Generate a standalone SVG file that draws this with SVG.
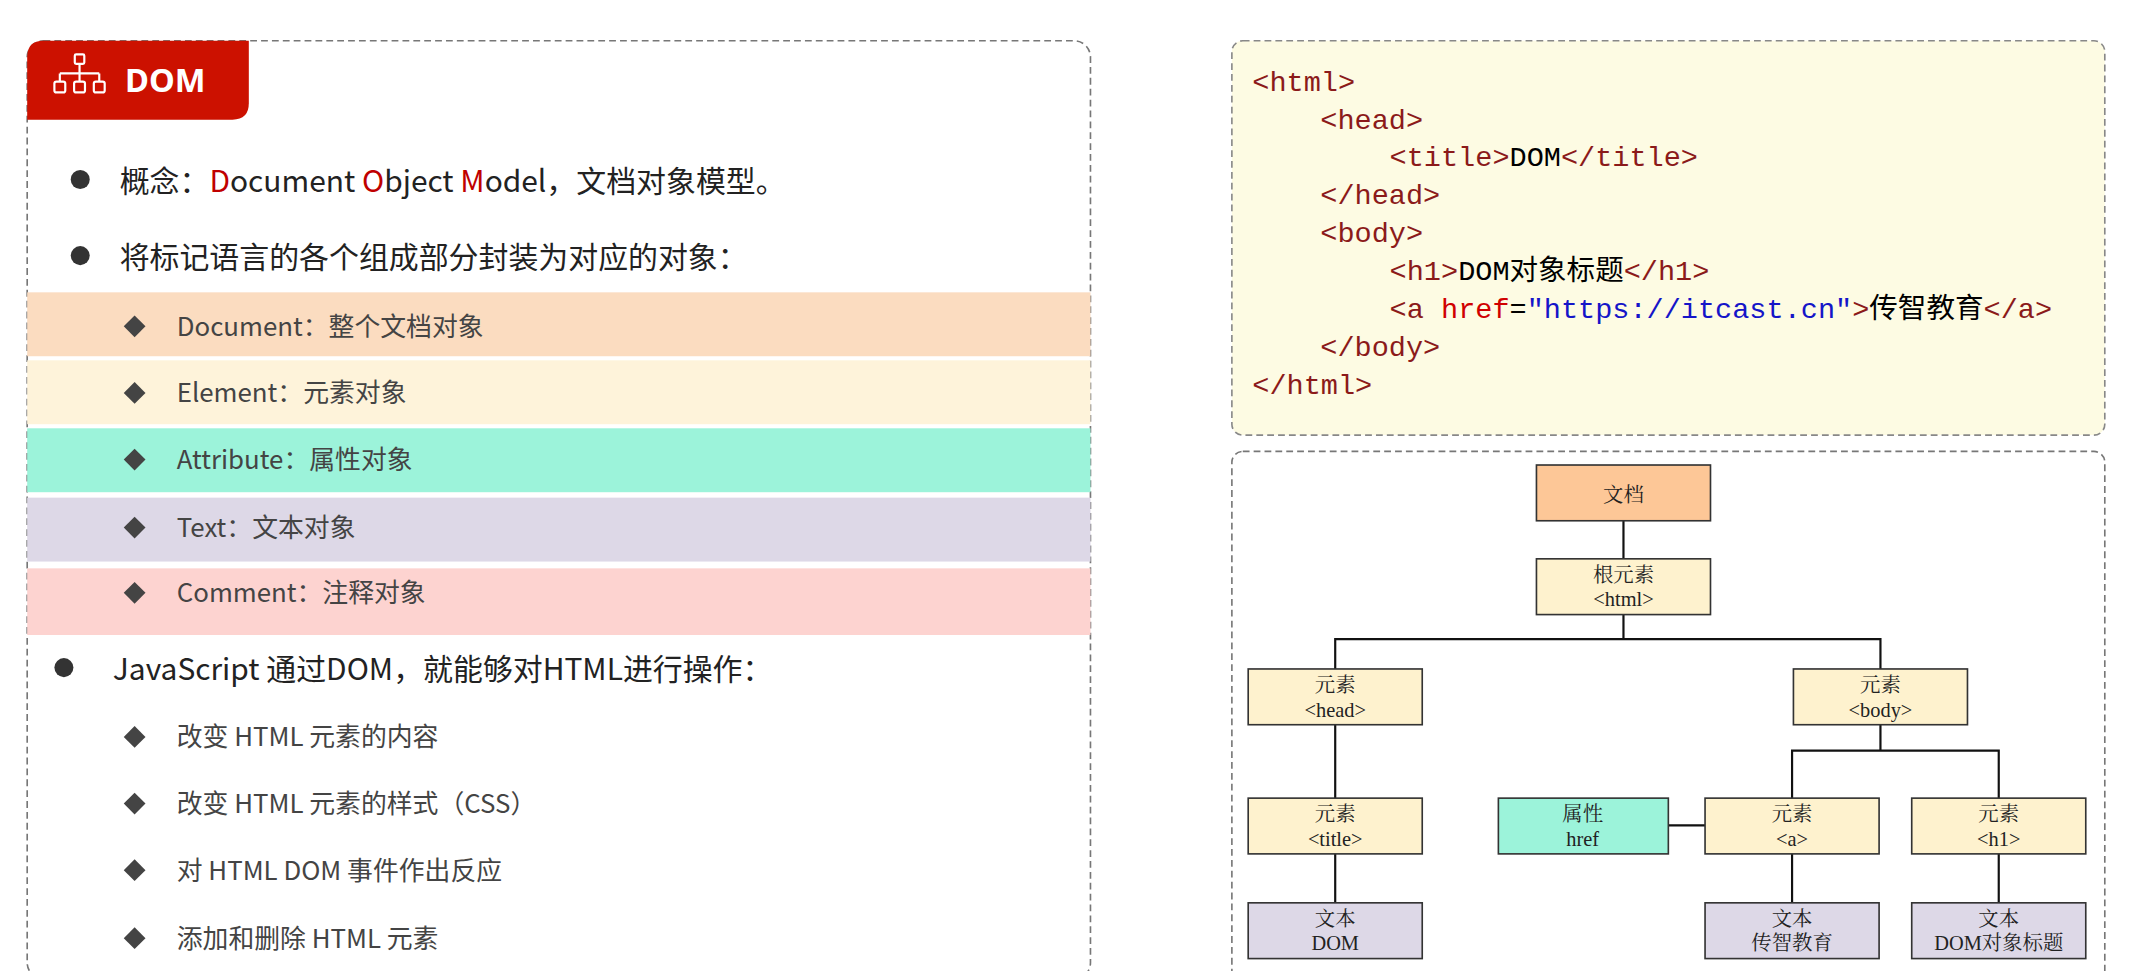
<svg xmlns="http://www.w3.org/2000/svg" width="2132" height="971" viewBox="0 0 2132 971">
<style>
.t{font-family:"Noto Sans CJK SC","Noto Sans",sans-serif;fill:#222}
.b{font-size:22px}
.s{font-size:19px;fill:#444}
.c{font-family:"Liberation Mono","Noto Sans CJK SC",monospace;font-size:21px;fill:#8B1A1A}
.k{fill:#000}
.n{stroke:#333;stroke-width:1.2}
.nt{font-family:"Liberation Serif","Noto Serif CJK SC","Noto Sans CJK SC",serif;font-size:15px;fill:#222;text-anchor:middle}
.dash{fill:none;stroke:#777;stroke-width:1.2;stroke-dasharray:5 3}
</style>
<defs>
<path id="dia" d="M0,-8 L8,0 L0,8 L-8,0 Z" fill="#444"/>
</defs>
<rect width="2132" height="971" fill="#fff"/>
<g transform="scale(1.35969)">
<g id="left">
<rect x="20" y="30" width="782" height="690" rx="12" class="dash"/>
<rect x="20" y="215" width="782" height="47" fill="#FBDCC0"/>
<rect x="20" y="265" width="782" height="47" fill="#FEF3DA"/>
<rect x="20" y="315" width="782" height="47" fill="#9CF3DA"/>
<rect x="20" y="366" width="782" height="47" fill="#DDD8E7"/>
<rect x="20" y="418" width="782" height="49" fill="#FDD3D0"/>
<path d="M32,30 H183 V76 Q183,88 171,88 H20 V42 Q20,30 32,30 Z" fill="#CC1100"/>
<g fill="none" stroke="#fff" stroke-width="1.6">
<rect x="55" y="40" width="7" height="7" rx="1"/>
<path d="M58.5,47 V54 M44,54 H73 M44,54 V60 M58.5,54 V60 M73,54 V60"/>
<rect x="40" y="60" width="8" height="8" rx="1.5"/><rect x="54.5" y="60" width="8" height="8" rx="1.5"/><rect x="69" y="60" width="8" height="8" rx="1.5"/>
</g>
<text x="92" y="68" font-family="'Noto Sans','Liberation Sans',sans-serif" font-weight="bold" font-size="24" fill="#fff">DOM</text>
<circle cx="59" cy="132" r="7" fill="#333"/>
<text x="88" y="141" class="t b">概念：<tspan fill="#C00000">D</tspan>ocument <tspan fill="#C00000">O</tspan>bject <tspan fill="#C00000">M</tspan>odel，文档对象模型。</text>
<circle cx="59" cy="188" r="7" fill="#333"/>
<text x="88" y="197" class="t b">将标记语言的各个组成部分封装为对应的对象：</text>
<use href="#dia" x="99" y="240"/><text x="130" y="247" class="t s">Document：整个文档对象</text>
<use href="#dia" x="99" y="289"/><text x="130" y="296" class="t s">Element：元素对象</text>
<use href="#dia" x="99" y="338"/><text x="130" y="345" class="t s">Attribute：属性对象</text>
<use href="#dia" x="99" y="388"/><text x="130" y="395" class="t s">Text：文本对象</text>
<use href="#dia" x="99" y="436"/><text x="130" y="443" class="t s">Comment：注释对象</text>
<circle cx="47" cy="491" r="7" fill="#333"/>
<text x="83" y="500" class="t b">JavaScript 通过DOM，就能够对HTML进行操作：</text>
<use href="#dia" x="99" y="542"/><text x="130" y="549" class="t s">改变 HTML 元素的内容</text>
<use href="#dia" x="99" y="591"/><text x="130" y="598" class="t s">改变 HTML 元素的样式（CSS）</text>
<use href="#dia" x="99" y="640"/><text x="130" y="647" class="t s">对 HTML DOM 事件作出反应</text>
<use href="#dia" x="99" y="690"/><text x="130" y="697" class="t s">添加和删除 HTML 元素</text>
</g>
<g id="code">
<rect x="906" y="30" width="642" height="290" rx="8" fill="#FDFBE3" stroke="#888" stroke-width="1.2" stroke-dasharray="5 3"/>
<text class="c" x="921" y="67">&lt;html&gt;</text>
<text class="c" x="971" y="95">&lt;head&gt;</text>
<text class="c" x="1022" y="122">&lt;title&gt;<tspan class="k">DOM</tspan>&lt;/title&gt;</text>
<text class="c" x="971" y="150">&lt;/head&gt;</text>
<text class="c" x="971" y="178">&lt;body&gt;</text>
<text class="c" x="1022" y="206">&lt;h1&gt;<tspan class="k">DOM对象标题</tspan>&lt;/h1&gt;</text>
<text class="c" x="1022" y="234">&lt;a <tspan fill="#D00000">href</tspan><tspan class="k">=</tspan><tspan fill="#1515C8">"https://itcast.cn"</tspan>&gt;<tspan class="k">传智教育</tspan>&lt;/a&gt;</text>
<text class="c" x="971" y="262">&lt;/body&gt;</text>
<text class="c" x="921" y="290">&lt;/html&gt;</text>
</g>
<rect x="906" y="332" width="642" height="392" rx="8" class="dash"/>
<g id="connectors" stroke="#111" stroke-width="1.6" fill="none">
<path d="M1194,383 V411 M1194,452 V470 M982,492 V470 H1383 V492"/>
<path d="M982,533 V587 M982,628 V664"/>
<path d="M1383,533 V552 M1318,587 V552 H1470 V587"/>
<path d="M1227,607 H1254 M1318,628 V664 M1470,628 V664"/>
</g>
<g id="n-doc"><rect x="1130" y="342" width="128" height="41" fill="#FDC797" class="n"/><text x="1194" y="369" class="nt" font-size="19">文档</text></g>
<g id="n-html"><rect x="1130" y="411" width="128" height="41" fill="#FEF2CE" class="n"/><text x="1194" y="428" class="nt">根元素</text><text x="1194" y="446" class="nt">&lt;html&gt;</text></g>
<g id="n-head"><rect x="918" y="492" width="128" height="41" fill="#FEF2CE" class="n"/><text x="982" y="509" class="nt">元素</text><text x="982" y="527" class="nt">&lt;head&gt;</text></g>
<g id="n-body"><rect x="1319" y="492" width="128" height="41" fill="#FEF2CE" class="n"/><text x="1383" y="509" class="nt">元素</text><text x="1383" y="527" class="nt">&lt;body&gt;</text></g>
<g id="n-title"><rect x="918" y="587" width="128" height="41" fill="#FEF2CE" class="n"/><text x="982" y="604" class="nt">元素</text><text x="982" y="622" class="nt">&lt;title&gt;</text></g>
<g id="n-attr"><rect x="1102" y="587" width="125" height="41" fill="#9CF3DA" class="n"/><text x="1164" y="604" class="nt">属性</text><text x="1164" y="622" class="nt">href</text></g>
<g id="n-a"><rect x="1254" y="587" width="128" height="41" fill="#FEF2CE" class="n"/><text x="1318" y="604" class="nt">元素</text><text x="1318" y="622" class="nt">&lt;a&gt;</text></g>
<g id="n-h1"><rect x="1406" y="587" width="128" height="41" fill="#FEF2CE" class="n"/><text x="1470" y="604" class="nt">元素</text><text x="1470" y="622" class="nt">&lt;h1&gt;</text></g>
<g id="n-t1"><rect x="918" y="664" width="128" height="41" fill="#DDD8E7" class="n"/><text x="982" y="681" class="nt">文本</text><text x="982" y="699" class="nt">DOM</text></g>
<g id="n-t2"><rect x="1254" y="664" width="128" height="41" fill="#DDD8E7" class="n"/><text x="1318" y="681" class="nt">文本</text><text x="1318" y="699" class="nt">传智教育</text></g>
<g id="n-t3"><rect x="1406" y="664" width="128" height="41" fill="#DDD8E7" class="n"/><text x="1470" y="681" class="nt">文本</text><text x="1470" y="699" class="nt">DOM对象标题</text></g>
</g>
</svg>
